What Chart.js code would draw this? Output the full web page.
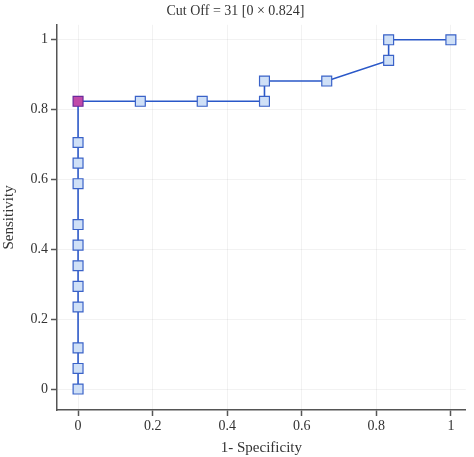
<!DOCTYPE html>
<html>
<head>
<meta charset="utf-8">
<script src="https://cdn.jsdelivr.net/npm/chart.js@4"></script>
<style>
  html, body { margin: 0; padding: 0; background: #fff; }
  #wrap { width: 474px; height: 457px; }
</style>
</head>
<body>
<div id="wrap"><canvas id="roc"></canvas></div>
<script>
// ROC curve points (1-specificity, sensitivity)
const fpr = [0, 0, 0, 0, 0, 0, 0, 0, 0, 0, 0, 0, 0.167, 0.333, 0.5, 0.5, 0.667, 0.833, 0.833, 1];
const tpr = [0, 0.059, 0.118, 0.235, 0.294, 0.353, 0.412, 0.471, 0.588, 0.647, 0.706, 0.824, 0.824, 0.824, 0.824, 0.882, 0.882, 0.941, 1, 1];
const cutIndex = 11; // the optimal cut-off point
const tickVals = [0, 0.2, 0.4, 0.6, 0.8, 1];
const titleText = 'Cut Off = 31 [0 × 0.824]';

const pts = fpr.map((x, i) => ({ x: x, y: tpr[i] }));
const fills = pts.map((p, i) => i == cutIndex ? '#c04aa8' : '#cfe0f7');
const borders = pts.map((p, i) => i == cutIndex ? '#6a2a9c' : '#3a62c8');

const fontFam = '"Liberation Serif", "DejaVu Serif", serif';
const fmt = v => {
  const r = Math.round(v * 10) / 10;
  return tickVals.some(t => Math.abs(t - v) < 1e-6) ? String(r) : '';
};

new Chart(document.getElementById('roc'), {
  type: 'scatter',
  data: {
    datasets: [{
      data: pts,
      showLine: true,
      borderColor: '#2a58c8',
      borderWidth: 1.6,
      pointStyle: 'rect',
      pointRadius: 7,
      pointHoverRadius: 7,
      pointBackgroundColor: fills,
      pointBorderColor: borders,
      pointBorderWidth: 1.2
    }]
  },
  options: {
    responsive: true,
    maintainAspectRatio: false,
    animation: false,
    layout: { padding: { left: 0, right: 3, top: 0, bottom: 0 } },
    plugins: {
      legend: { display: false },
      tooltip: { enabled: false },
      title: {
        display: true,
        text: titleText,
        color: '#333',
        font: { family: fontFam, size: 14, weight: 'normal' },
        padding: { top: 3, bottom: 5 }
      }
    },
    scales: {
      x: {
        type: 'linear',
        min: -0.0565,
        max: 1.04,
        afterBuildTicks: s => { s.ticks = tickVals.map(v => ({ value: v })); },
        afterFit: s => { s.height = 47; },
        ticks: { callback: fmt, color: '#333', font: { family: fontFam, size: 14 }, padding: 2, maxRotation: 0 },
        grid: { color: 'rgba(0,0,0,0.05)', tickColor: '#555', tickLength: 6, tickWidth: 1.5 },
        border: { color: '#555', width: 1.5 },
        title: { display: true, text: '1- Specificity', color: '#333', font: { family: fontFam, size: 15 }, padding: { top: 4, bottom: 0 } }
      },
      y: {
        type: 'linear',
        min: -0.06,
        max: 1.043,
        afterBuildTicks: s => { s.ticks = tickVals.map(v => ({ value: v })); },
        afterFit: s => { s.width = 57; },
        ticks: { callback: fmt, color: '#333', font: { family: fontFam, size: 14 }, padding: 3 },
        grid: { color: 'rgba(0,0,0,0.05)', tickColor: '#555', tickLength: 6, tickWidth: 1.5 },
        border: { color: '#555', width: 1.5 },
        title: { display: true, text: 'Sensitivity', color: '#333', font: { family: fontFam, size: 15 }, padding: { top: 0, bottom: 4 } }
      }
    }
  }
});
</script>
</body>
</html>
